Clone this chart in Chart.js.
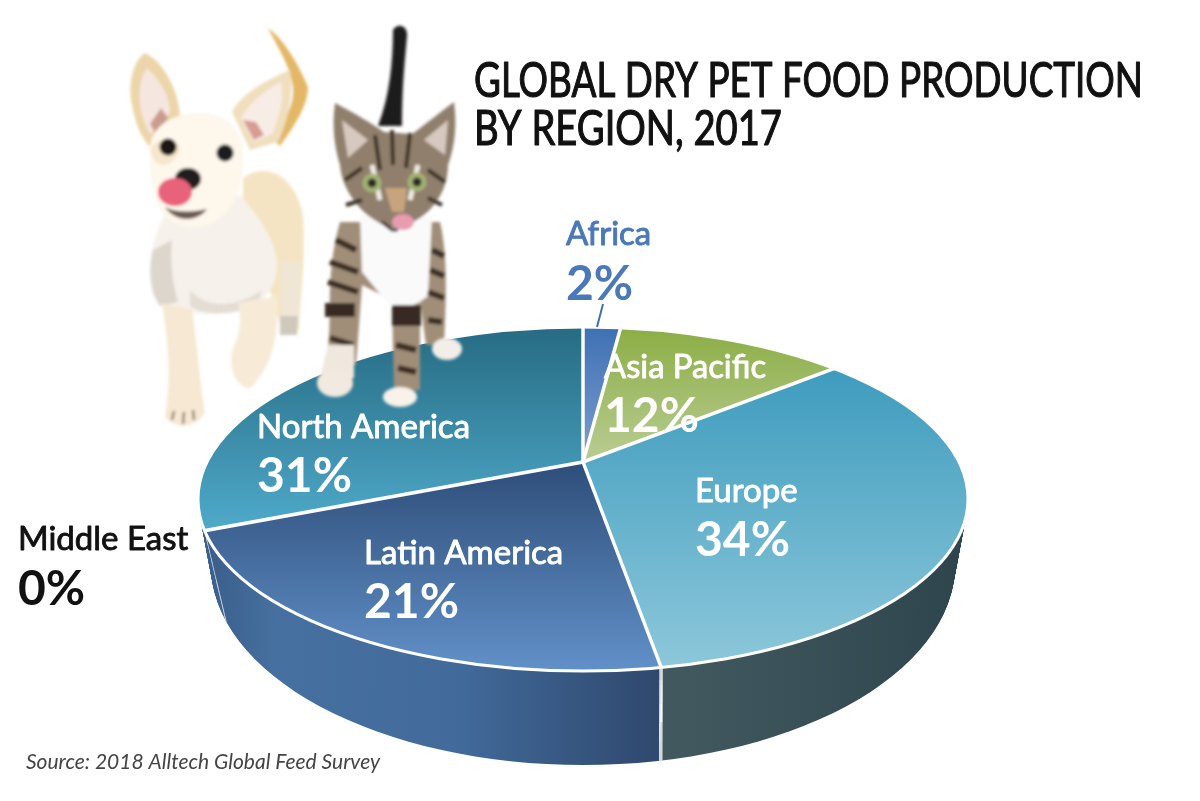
<!DOCTYPE html>
<html lang="en">
<head>
<meta charset="UTF-8">
<title>Global dry pet food production by region, 2017</title>
<style>
	html, body { margin: 0; background: #fff; }
	#wrap { position: relative; width: 1200px; height: 801px; overflow: hidden; }
	#pets { position: absolute; left: 0; top: 0; pointer-events: none; }
</style>
</head>
<body>
<div id="wrap">
	<canvas id="pieChart" width="1200" height="801"></canvas>

	<!-- dog and cat, rough vector stand-ins for the photo -->
	<svg id="pets" width="1200" height="801" viewBox="0 0 1200 801">
		<defs><filter id="soft" x="-10%" y="-10%" width="120%" height="120%"><feGaussianBlur stdDeviation="1.6"/></filter></defs>
		<g filter="url(#soft)">
			<!-- dog -->
			<path d="M268 28 C280 36 296 58 308 87 C308 105 295 125 280 146 L272 138 C285 120 295 105 293 87 C290 65 278 48 268 28Z" fill="#e3b765"/>
			<path d="M243 178 C268 160 296 178 303 215 C306 260 300 300 299 330 L283 335 C275 300 260 260 243 240Z" fill="#f5e4c3"/>
			<path d="M281 262 L300 262 L299 318 L281 320Z" fill="#f0e6d6"/>
			<path d="M280 316 L298 316 L297 335 L280 335Z" fill="#cfc8bd"/>
			<path d="M145 53 C132 62 128 85 132 105 C136 128 145 145 155 150 L180 118 C180 95 165 62 145 53Z" fill="#ecd5a8"/>
			<path d="M147 68 C137 82 136 110 150 134 L170 112 C170 95 158 78 147 68Z" fill="#f6e6e0"/>
			<path d="M161 108 L168 118 L156 134 L150 124Z" fill="#c99c8e"/>
			<path d="M290 70 C265 80 240 95 232 112 L250 150 L278 142 C288 120 294 95 290 70Z" fill="#f0dfbd"/>
			<path d="M281 82 C262 92 248 105 241 118 L254 142 L272 134 C280 115 284 100 281 82Z" fill="#f8ece6"/>
			<path d="M243 120 L256 122 L264 135 L254 140Z" fill="#d79c94"/>
			<path d="M165 215 C150 240 148 270 153 295 C165 312 195 316 225 313 C255 310 278 295 277 262 C275 240 258 215 240 195Z" fill="#f6f1ea"/>
			<path d="M153 250 C148 270 150 292 160 306 L178 302 C172 282 170 262 172 240Z" fill="#dcd6cc"/>
			<path d="M190 290 C210 312 240 305 262 290 L258 304 C235 316 205 316 190 306Z" fill="#e3ddd4"/>
			<path d="M162 303 L192 310 C198 350 200 385 205 412 C198 428 175 430 165 417 C172 380 168 340 162 303Z" fill="#f6e8d2"/>
			<path d="M238 303 L277 296 C280 340 270 370 250 388 C238 388 228 372 232 350 C240 335 242 320 238 303Z" fill="#f7ebd8"/>
			<path d="M172 420 L174 411 M183 424 L184 412 M194 420 L193 410" stroke="#8f8272" stroke-width="2.5" fill="none"/>
			<path d="M150 150 C150 125 175 113 200 113 C228 113 245 132 243 158 C243 190 232 218 205 226 C180 232 160 220 155 195 C150 180 150 165 150 150Z" fill="#fdf7ec"/>
			<path d="M150 150 C155 140 175 132 180 150 C170 170 155 170 150 150Z" fill="#f6e6cc"/>
			<circle cx="168" cy="147" r="8.5" fill="#1c1614"/>
			<circle cx="225" cy="153" r="8.5" fill="#1c1a1c"/>
			<ellipse cx="188" cy="179" rx="13" ry="11" fill="#201a1a"/>
			<path d="M165 207 C175 213 195 212 207 209 C198 222 175 223 165 207Z" fill="#6b5a52"/>
			<ellipse cx="175" cy="192" rx="17" ry="14" fill="#e8627c"/>

			<!-- cat -->
			<path d="M393 30 C398 22 408 26 407 36 C405 60 402 85 402 126 L378 126 C390 95 393 60 393 30Z" fill="#1f1a1a"/>
			<path d="M340 222 L440 222 C448 255 446 300 444 345 L426 345 L420 300 L420 390 L394 392 L392 300 L362 285 L356 365 L324 365 C336 330 322 285 340 222Z" fill="#a08e78"/>
			<path d="M360 215 L432 215 L428 296 C410 310 395 312 385 300 L362 272Z" fill="#fbfafa"/>
			<path d="M335 103 C345 108 375 125 384 132 L412 134 C425 125 440 112 454 102 C457 125 455 145 448 165 C448 200 420 225 395 228 C370 225 342 195 340 165 C334 145 332 125 335 103Z" fill="#8f7f6c"/>
			<path d="M342 120 L368 140 L348 158Z" fill="#d8c9c0"/>
			<path d="M448 120 L424 140 L445 155Z" fill="#d8c9c0"/>
			<path d="M375 135 L380 170 M392 130 L393 165 M410 133 L406 168 M345 180 L362 168 M445 182 L428 170 M346 205 L362 200 M442 205 L428 198" stroke="#3e3228" stroke-width="4" fill="none"/>
			<path d="M336 240 L356 250 M330 262 L358 272 M328 282 L358 292 M326 310 L352 312 M330 338 L353 345 M396 345 L416 350 M398 368 L416 372 M432 250 L444 256 M430 270 L444 276 M428 292 L444 298 M428 320 L442 322" stroke="#3a2e24" stroke-width="6" fill="none"/>
			<path d="M392 305 H421 V326 H392Z" fill="#372c22"/>
			<path d="M325 303 H355 V317 H325Z" fill="#372c22"/>
			<path d="M385 188 L407 188 L404 212 L392 212Z" fill="#c8a47e"/>
			<path d="M372 165 L380 200 M418 165 L410 200" stroke="#f2ece4" stroke-width="5" fill="none"/>
			<circle cx="372" cy="183" r="9.5" fill="#a2b374"/><circle cx="372" cy="183" r="4.5" fill="#2a2a22"/>
			<circle cx="417" cy="182" r="9.5" fill="#a2b374"/><circle cx="417" cy="182" r="4.5" fill="#2a2a22"/>
			<ellipse cx="403" cy="222" rx="11" ry="8" fill="#e79cb0"/>
			<path d="M382 222 L392 230 L398 230" stroke="#3a2e2a" stroke-width="3" fill="none"/>
			<path d="M328 345 L354 345 L354 378 L320 378Z" fill="#f0e8de"/>
			<ellipse cx="335" cy="383" rx="18" ry="14" fill="#f2e9e0"/>
			<ellipse cx="400" cy="397" rx="17" ry="10" fill="#f8f2ea"/>
			<ellipse cx="447" cy="349" rx="15" ry="11" fill="#f3eee8"/>
		</g>
		<!-- leader line for Africa -->
		<line x1="603" y1="304" x2="597" y2="327" stroke="#3e70ab" stroke-width="2"/>
	</svg>
</div>

<script src="https://cdn.jsdelivr.net/npm/chart.js"></script>
<script>
const categories = ['Africa', 'Asia Pacific', 'Europe', 'Latin America', 'Middle East', 'North America'];
const shareValues = [2, 12, 34, 21, 0, 31];
const titleLines = ['GLOBAL DRY PET FOOD PRODUCTION', 'BY REGION, 2017'];
const sourceText = 'Source: 2018 Alltech Global Feed Survey';

// where the ellipse of the pie top sits on the page
const squash = 0.45;
const lean = 0.1; // the part below the apex leans right, the photo-style perspective
const apexY = 462;
const topOval = { cx: 583, cy: 499, rx: 385, ry: 172 };
const baseOval = { cx: 583, cy: 565, rx: 372, ry: 200 };
const depth = 94;

// label anchors: x, baseline of name, baseline of percent, colour
const labelSpots = {
	'Africa': [566, 245, 300, '#4a78b8'],
	'Asia Pacific': [604, 378, 432, '#ffffff'],
	'Europe': [695, 502, 556, '#ffffff'],
	'Latin America': [364, 564, 618, '#ffffff'],
	'Middle East': [18, 550, 605, '#111111'],
	'North America': [257, 438, 492, '#ffffff']
};

const canvas = document.getElementById('pieChart');
const ctx = canvas.getContext('2d');

// vertical gradients are given in page pixels, then undone for the squash
function vGrad(y0, c0, y1, c1) {
	const g = ctx.createLinearGradient(0, apexY + (y0 - apexY) / squash, 0, apexY + (y1 - apexY) / squash);
	g.addColorStop(0, c0);
	g.addColorStop(1, c1);
	return g;
}
function hGrad(stops) {
	const g = ctx.createLinearGradient(200, 0, 970, 0);
	stops.forEach(s => g.addColorStop(s[0], s[1]));
	return g;
}

const topColors = [
	vGrad(330, '#3f72b4', 460, '#7f9cd0'),
	vGrad(330, '#8cae46', 460, '#b9cc92'),
	vGrad(370, '#3f9cbe', 665, '#8cc7da'),
	vGrad(470, '#30507c', 670, '#6190c8'),
	'#3a5f8c',
	vGrad(330, '#276c84', 525, '#4ea8c8')
];
const latinWall = hGrad([[0, '#3a5e8a'], [0.08, '#46709f'], [0.3, '#426b9c'], [0.6, '#2d4468']]);
const europeWall = hGrad([[0.6, '#41585f'], [1, '#2e444c']]);
const wallColors = ['#2e444c', '#2e444c', europeWall, latinWall, latinWall, latinWall];

function ovalPath(c, o) {
	c.beginPath();
	c.ellipse(o.cx, o.cy, o.rx, o.ry, 0, 0, Math.PI * 2);
}

// runs draw twice, once for the part above the apex and once leaning for the part below
function bothHalves(c, apexX, shift, draw) {
	const y = apexY + shift;
	c.save();
	c.beginPath();
	c.rect(0, 0, 1200, y);
	c.clip();
	draw();
	c.restore();

	c.save();
	c.beginPath();
	c.rect(0, y, 1200, 801 - y);
	c.clip();
	c.transform(1, 0, lean, 1, -lean * y, 0);
	draw();
	c.restore();
}

function drawSlices(c, arcs, shift, colors) {
	bothHalves(c, arcs[0].x, shift, () => {
		c.save();
		c.translate(0, apexY + shift);
		c.scale(1, squash);
		c.translate(0, -apexY);
		arcs.forEach((arc, i) => {
			const saved = arc.options;
			arc.options = Object.assign({}, saved, { backgroundColor: colors[i] });
			arc.draw(c);
			arc.options = saved;
		});
		c.restore();
	});
}

function drawSeams(c, arcs, shift) {
	bothHalves(c, arcs[0].x, shift, () => {
		c.strokeStyle = '#ffffff';
		c.lineWidth = 3.5;
		arcs.forEach(arc => {
			if (arc.circumference === 0) return;
			c.beginPath();
			c.moveTo(arc.x, apexY + shift);
			c.lineTo(arc.x + Math.cos(arc.startAngle) * arc.outerRadius,
				apexY + shift + Math.sin(arc.startAngle) * arc.outerRadius * squash);
			c.stroke();
		});
	});
}

const pie3d = {
	id: 'pie3d',
	beforeDatasetsDraw(chart) {
		const c = chart.ctx;
		const arcs = chart.getDatasetMeta(0).data;

		// side wall, extruded from the bottom up
		for (let i = depth; i > 0; i--) {
			const t = i / depth;
			const oval = {
				cx: topOval.cx,
				cy: topOval.cy + (baseOval.cy - topOval.cy) * t,
				rx: topOval.rx + (baseOval.rx - topOval.rx) * t,
				ry: topOval.ry + (baseOval.ry - topOval.ry) * t
			};
			c.save();
			ovalPath(c, oval);
			c.clip();
			drawSlices(c, arcs, i, wallColors);
			drawSeams(c, arcs, i);
			c.restore();
		}

		// top face
		c.save();
		ovalPath(c, topOval);
		c.clip();
		drawSlices(c, arcs, 0, topColors);
		drawSeams(c, arcs, 0);
		c.restore();

		c.strokeStyle = '#ffffff';
		c.lineWidth = 3;
		ovalPath(c, topOval);
		c.stroke();
		return false;
	},
	afterDraw(chart) {
		const c = chart.ctx;
		c.save();
		c.textBaseline = 'alphabetic';
		c.textAlign = 'left';
		c.lineJoin = 'round';

		categories.forEach((name, i) => {
			const spot = labelSpots[name];
			c.fillStyle = spot[3];
			c.strokeStyle = spot[3];
			c.lineWidth = 0.9;
			c.font = '400 33px Lato, sans-serif';
			c.fillText(name, spot[0], spot[1], name === 'Asia Pacific' ? 162 : undefined);
			c.strokeText(name, spot[0], spot[1], name === 'Asia Pacific' ? 162 : undefined);
			c.font = '700 48px Lato, sans-serif';
			c.fillText(shareValues[i] + '%', spot[0], spot[2]);
		});

		c.fillStyle = '#111111';
		c.strokeStyle = '#111111';
		c.lineWidth = 1.2;
		c.font = '400 48px Lato, sans-serif';
		c.fillText(titleLines[0], 474, 97, 669);
		c.strokeText(titleLines[0], 474, 97, 669);
		c.fillText(titleLines[1], 474, 145, 308);
		c.strokeText(titleLines[1], 474, 145, 308);

		c.fillStyle = '#444444';
		c.font = 'italic 21px Lato, sans-serif';
		c.fillText(sourceText, 26, 769, 359);
		c.restore();
	}
};

new Chart(canvas, {
	type: 'pie',
	data: {
		labels: categories,
		datasets: [{
			data: shareValues,
			backgroundColor: topColors,
			borderWidth: 0
		}]
	},
	options: {
		responsive: false,
		animation: false,
		radius: 520,
		layout: { padding: { left: 0, right: 34, top: 123, bottom: 0 } },
		plugins: { legend: { display: false }, tooltip: { enabled: false }, title: { display: false } }
	},
	plugins: [pie3d]
});
</script>
</body>
</html>
